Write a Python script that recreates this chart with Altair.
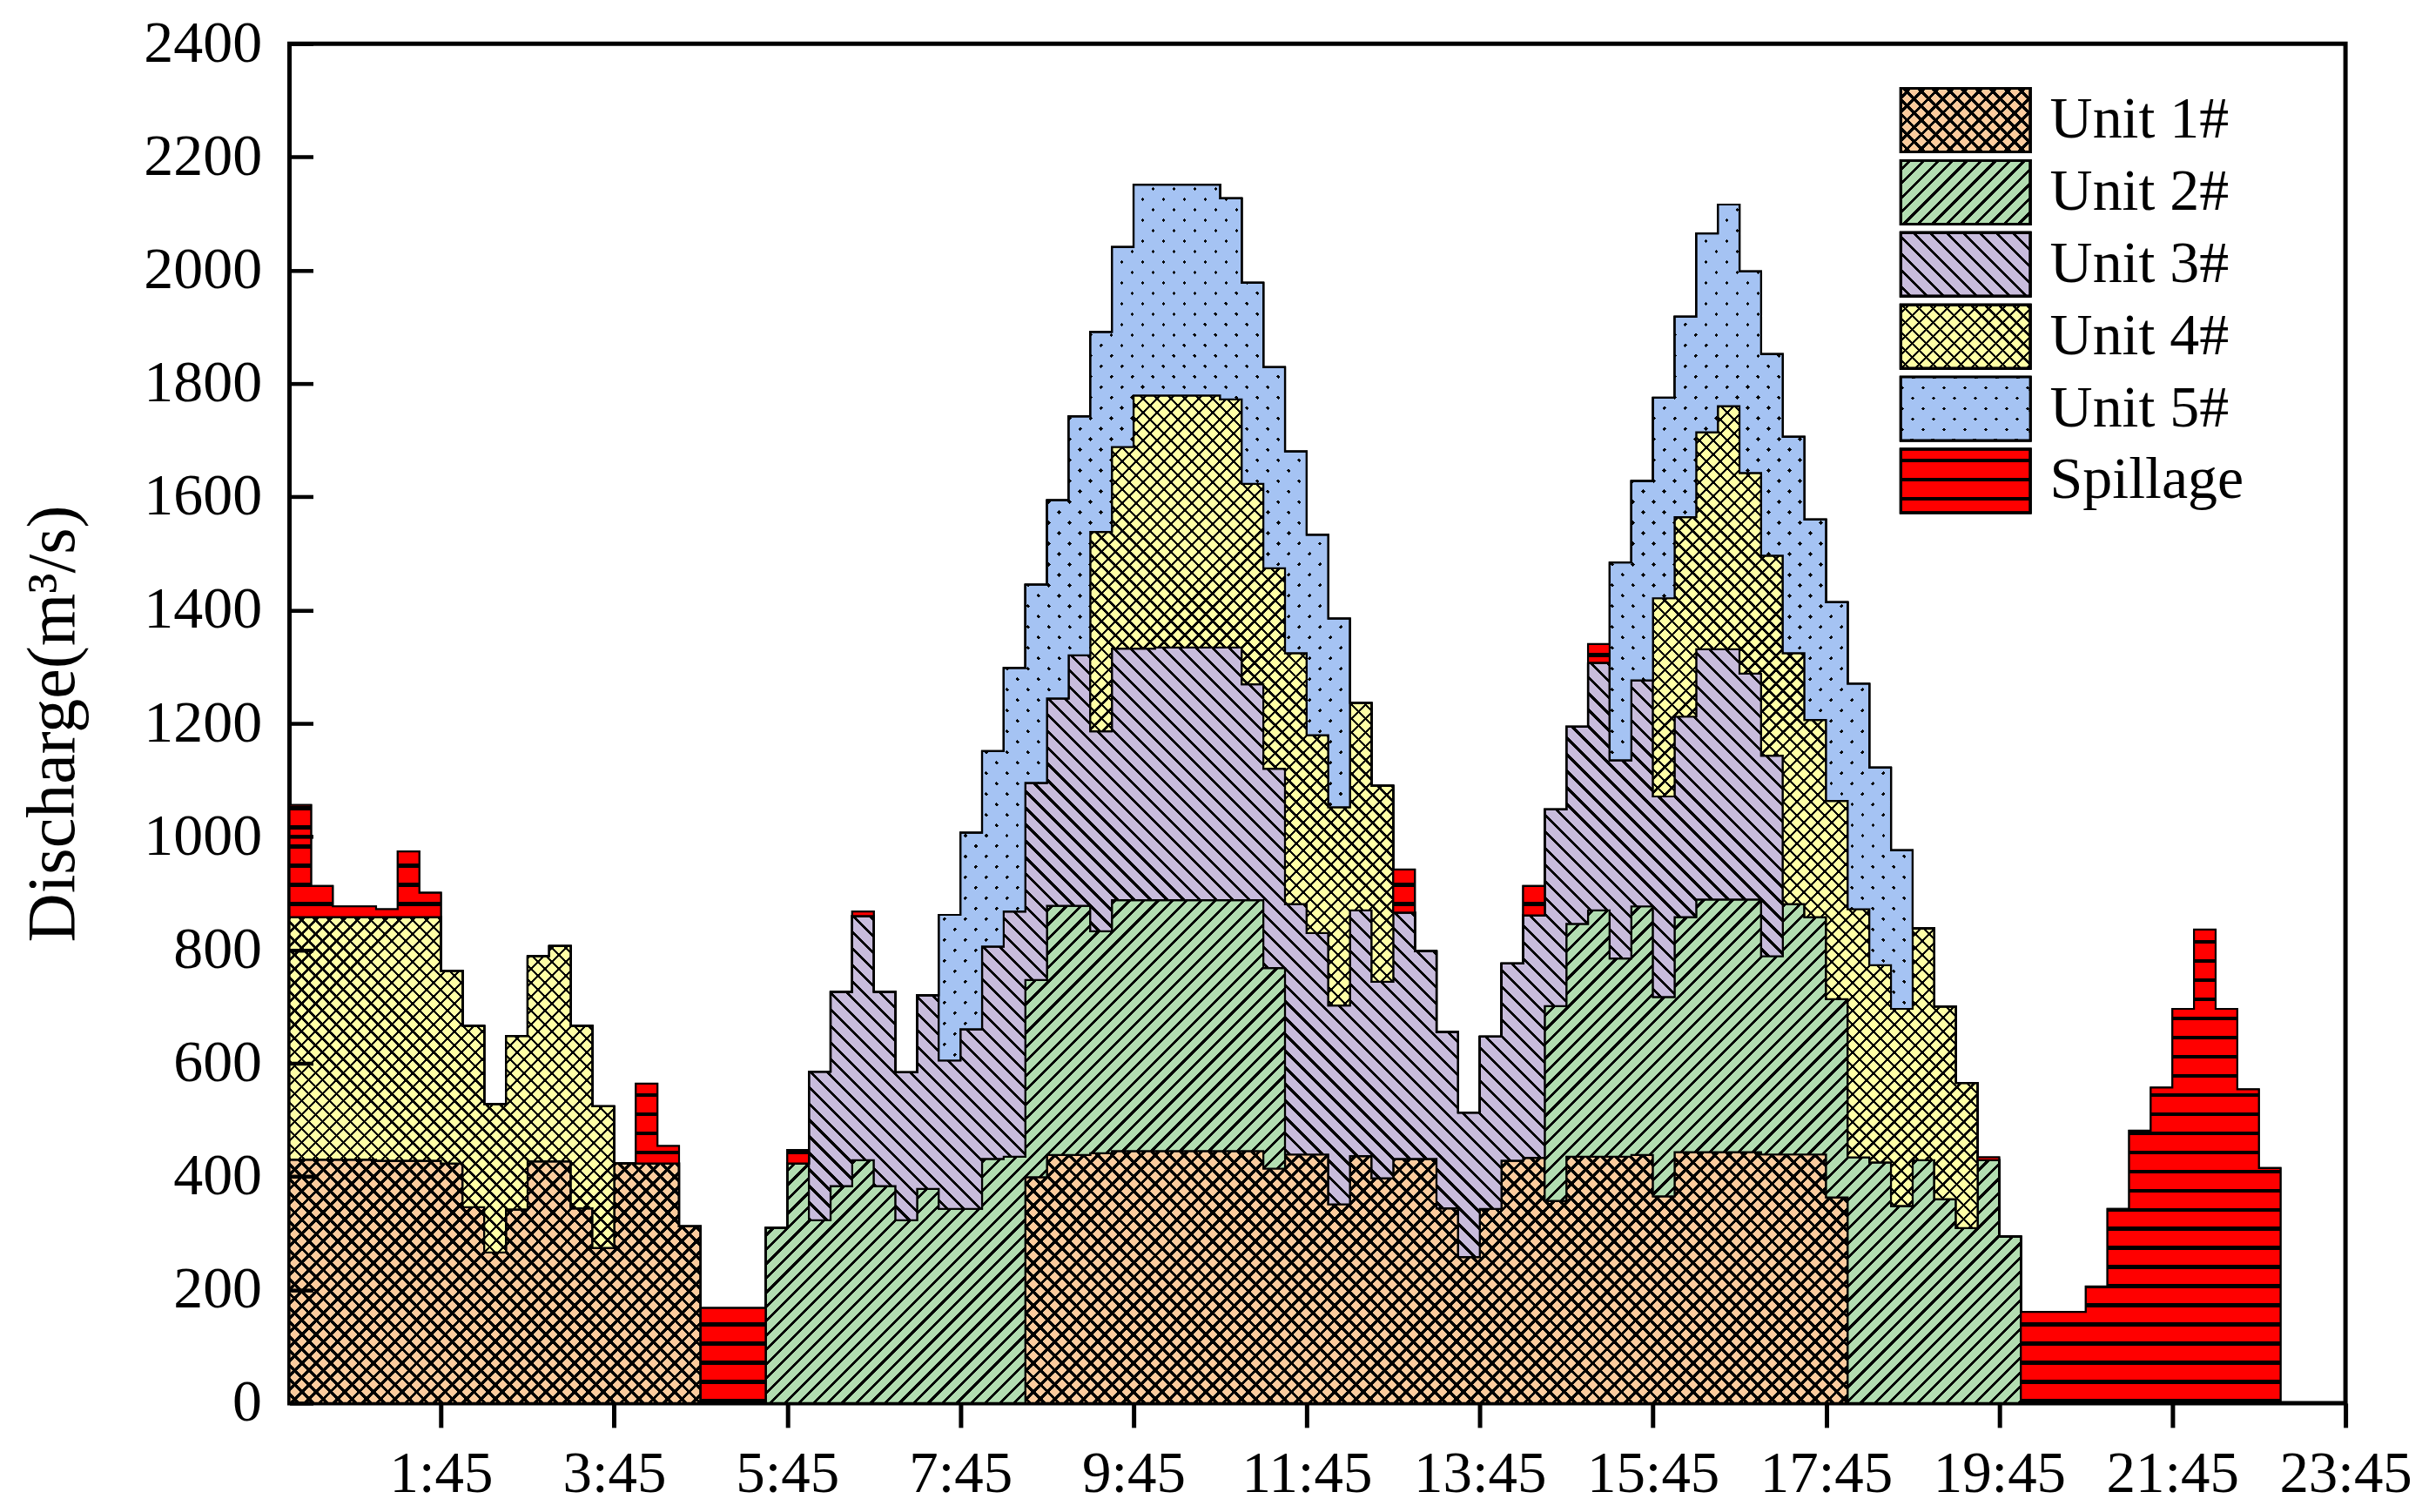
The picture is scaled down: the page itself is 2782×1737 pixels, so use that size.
import json
import math
import altair as alt
import pandas as pd

FONT = "Liberation Serif"

# ---------------- data (15-minute steps starting at 0:00) ----------------
series_names = ["Unit 1#", "Unit 2#", "Unit 3#", "Unit 4#", "Unit 5#", "Spillage"]

unit1 = [430, 430, 430, 430, 428, 428, 428, 423, 346, 266,
         342, 427, 427, 344, 274, 423, 423, 423, 312, 0,
         0, 0, 0, 0, 0, 0, 0, 0, 0, 0,
         0, 0, 0, 0, 399, 438, 438, 441, 445, 445,
         445, 445, 445, 445, 445, 414, 439, 439, 351, 436,
         397, 431, 431, 344, 258, 343, 428, 433, 357, 435,
         435, 435, 438, 365, 443, 443, 443, 443, 439, 439,
         439, 363, 0, 0, 0, 0, 0, 0, 0, 0,
         0, 0, 0, 0, 0, 0, 0, 0, 0, 0,
         0, 0]
unit2 = [0, 0, 0, 0, 0, 0, 0, 0, 0, 0,
         0, 0, 0, 0, 0, 0, 0, 0, 0, 0,
         0, 0, 309, 423, 323, 383, 429, 383, 323, 378,
         343, 343, 431, 435, 348, 440, 440, 392, 443, 443,
         443, 443, 443, 443, 443, 354, 0, 0, 0, 0,
         0, 0, 0, 0, 0, 0, 0, 0, 344, 411,
         435, 350, 439, 352, 415, 446, 446, 446, 350, 442,
         419, 350, 434, 425, 348, 429, 360, 309, 429, 294,
         0, 0, 0, 0, 0, 0, 0, 0, 0, 0,
         0, 0]
unit3 = [0, 0, 0, 0, 0, 0, 0, 0, 0, 0,
         0, 0, 0, 0, 0, 0, 0, 0, 0, 0,
         0, 0, 0, 0, 262, 343, 431, 343, 261, 342,
         262, 317, 375, 433, 348, 366, 442, 353, 444, 444,
         446, 446, 446, 446, 381, 352, 442, 391, 351, 434,
         347, 435, 367, 311, 255, 304, 348, 428, 347, 348,
         437, 350, 399, 354, 354, 442, 442, 399, 354, 0,
         0, 0, 0, 0, 0, 0, 0, 0, 0, 0,
         0, 0, 0, 0, 0, 0, 0, 0, 0, 0,
         0, 0]
unit4 = [428, 428, 428, 428, 430, 430, 430, 340, 320, 262,
         306, 362, 380, 322, 250, 0, 0, 0, 0, 0,
         0, 0, 0, 0, 0, 0, 0, 0, 0, 0,
         0, 0, 0, 0, 0, 0, 0, 352, 356, 447,
         445, 445, 445, 438, 354, 354, 443, 349, 350, 366,
         346, 0, 0, 0, 0, 0, 0, 0, 0, 0,
         0, 0, 0, 350, 352, 383, 429, 354, 353, 443,
         348, 350, 438, 348, 348, 409, 340, 256, 0, 0,
         0, 0, 0, 0, 0, 0, 0, 0, 0, 0,
         0, 0]
unit5 = [0, 0, 0, 0, 0, 0, 0, 0, 0, 0,
         0, 0, 0, 0, 0, 0, 0, 0, 0, 0,
         0, 0, 0, 0, 0, 0, 0, 0, 0, 0,
         257, 347, 345, 430, 350, 350, 422, 353, 353, 372,
         372, 372, 372, 355, 355, 355, 356, 354, 333, 0,
         0, 0, 0, 0, 0, 0, 0, 0, 0, 0,
         0, 349, 352, 354, 354, 351, 356, 356, 356, 382,
         354, 351, 398, 349, 280, 0, 0, 0, 0, 0,
         0, 0, 0, 0, 0, 0, 0, 0, 0, 0,
         0, 0]
spill = [198, 55, 19, 19, 14, 116, 43, 0, 0, 0,
         0, 0, 0, 0, 0, 0, 141, 31, 0, 168,
         168, 168, 0, 24, 0, 0, 8, 0, 0, 0,
         0, 0, 0, 0, 0, 0, 0, 0, 0, 0,
         0, 0, 0, 0, 0, 0, 0, 0, 0, 0,
         0, 76, 0, 0, 0, 0, 0, 52, 0, 0,
         33, 0, 0, 0, 0, 0, 0, 0, 0, 0,
         0, 0, 0, 0, 0, 0, 0, 0, 5, 0,
         161, 161, 161, 206, 343, 481, 557, 696, 836, 696,
         554, 415]

values_by_series = [unit1, unit2, unit3, unit4, unit5, spill]
N_STEPS = 92
for v in values_by_series:
    assert len(v) == N_STEPS
# step start times in hours; one extra point closes the last step
step_hours = [i * 0.25 for i in range(N_STEPS + 1)]

y_ticks = [0, 200, 400, 600, 800, 1000, 1200, 1400, 1600, 1800, 2000, 2200, 2400]
x_tick_values = [1.75, 3.75, 5.75, 7.75, 9.75, 11.75, 13.75, 15.75, 17.75, 19.75, 21.75, 23.75]
x_tick_labels = ["1:45", "3:45", "5:45", "7:45", "9:45", "11:45", "13:45",
                 "15:45", "17:45", "19:45", "21:45", "23:45"]

base_colors = ["#FBCB9D", "#B2DDB1", "#C8BCDC", "#FFFFA6", "#A5C3F3", "#FF0000"]

# ---------------- geometry (plot area) ----------------
W_PLOT, H_PLOT = 2365, 1564
X_MAX, Y_MAX = 23.75, 2400

rows = []
for k, (name, vals) in enumerate(zip(series_names, values_by_series)):
    ext = vals + [vals[-1]]
    for t, v in zip(step_hours, ext):
        rows.append({"t": t, "series": name, "order": k, "value": v})
df = pd.DataFrame(rows)


def px_y(v):
    return (1 - v / Y_MAX) * H_PLOT


# bounding boxes of each stacked area path (for pattern gradients)
bboxes = []
cum = [0] * (N_STEPS + 1)
for vals in values_by_series:
    ext = vals + [vals[-1]]
    lower = cum[:]
    upper = [a + b for a, b in zip(lower, ext)]
    w = step_hours[-1] / X_MAX * W_PLOT
    h = max(px_y(min(lower)) - px_y(max(upper)), 1)
    bboxes.append((w, h))
    cum = upper


def stripes(W, H, period, lw, bg, fg, kind):
    if kind == "h":
        L = H
        x1, y1, x2, y2 = 0, 0, 0, 1
        d = lw / L
    else:
        L = W + H
        m = L / (W * W + H * H)
        d = lw * math.sqrt(2) / L
        if kind == "/":
            x1, y1, x2, y2 = 0, 0, W * m, H * m
        else:
            x1, y1, x2, y2 = 0, 1, W * m, 1 - H * m
    step = period / L
    stops = [{"offset": 0, "color": bg}]
    o = step / 2
    while o < 1:
        a = round(o, 6)
        b = round(min(o + d, 1), 6)
        stops += [{"offset": a, "color": bg}, {"offset": a, "color": fg},
                  {"offset": b, "color": fg}, {"offset": b, "color": bg}]
        o += step
    stops.append({"offset": 1, "color": bg})
    return {"gradient": "linear", "x1": round(x1, 6), "y1": round(y1, 6),
            "x2": round(x2, 6), "y2": round(y2, 6), "stops": stops}


CLEAR = "rgba(0,0,0,0)"
INK = "#000000"
c1, c2, c3, c4, c5, c6 = base_colors
# pattern layers per series: (kind, background, line colour, period px, line width px)
pattern_specs = [
    [("/", c1, INK, 16.5, 3.4), ("\\", CLEAR, INK, 16.5, 3.4)],          # cross-hatch
    [("/", c2, INK, 16.5, 3.0)],                                         # forward diagonal
    [("\\", c3, INK, 19.0, 3.0)],                                        # back diagonal
    [("/", c4, INK, 16.0, 2.3), ("\\", CLEAR, INK, 16.0, 2.3)],          # fine mesh
    [("solid", c5, None, 0, 0), ("/", CLEAR, INK, 24.0, 3.2),
     ("\\", c5, CLEAR, 24.0, 3.2)],                                      # dots
    [("h", c6, INK, 22.0, 4.5)],                                         # horizontal lines
]


def make_fill(spec, W, H):
    kind, bg, fg, period, lw = spec
    if kind == "solid":
        return bg
    return stripes(W, H, period, lw, bg, fg, kind)


patterns = [[make_fill(s, *bboxes[k]) for s in specs] for k, specs in enumerate(pattern_specs)]

# legend swatch patterns (swatch is 149 x 73 px)
LW, LH = 149, 73
N_LEG = max(len(s) for s in pattern_specs)


def leg_value(spec):
    f = make_fill(spec, LW, LH)
    if isinstance(f, str):
        return f
    return alt.ExprRef(expr=json.dumps(f, separators=(",", ":")))


legend_ranges = []
for li in range(N_LEG):
    legend_ranges.append([leg_value(specs[li]) if li < len(specs) else CLEAR
                          for specs in pattern_specs])

# ---------------- encodings ----------------
label_expr = "[" + ",".join("'%s'" % s for s in x_tick_labels) + "][round((datum.value - 1.75) / 2)]"

x_enc = alt.X(
    "t:Q",
    scale=alt.Scale(domain=[0, X_MAX], nice=False, zero=False),
    axis=alt.Axis(values=x_tick_values, labelExpr=label_expr, title=None, grid=False,
                  domain=False, tickSize=28, tickWidth=5, tickColor="black",
                  labelPadding=21, labelFont=FONT, labelFontSize=67, labelColor="black",
                  labelFlush=False, labelOverlap=False, zindex=1),
)
y_enc = alt.Y(
    "y1:Q",
    scale=alt.Scale(domain=[0, Y_MAX], nice=False),
    axis=alt.Axis(values=y_ticks, format="d", title="Discharge(m³/s)", grid=False,
                  domain=False, offset=-27, tickSize=27, tickWidth=4.5, tickColor="black",
                  labelPadding=32, labelFont=FONT, labelFontSize=68, labelColor="black",
                  labelFlush=False, labelOverlap=False,
                  titleFont=FONT, titleFontSize=78, titleFontWeight="normal",
                  titleColor="black", titleAngle=270, titleAlign="center",
                  titleBaseline="alphabetic", titleX=-275, titleY=782, zindex=1),
)
y2_enc = alt.Y2("y0:Q")

SYMBOL = "M-2,-0.98L2,-0.98L2,0.98L-2,0.98Z"
legend_common = dict(
    title=None, orient="none", legendX=1889, legendY=49, direction="vertical",
    symbolType=SYMBOL, symbolSize=5550, symbolStrokeWidth=3, symbolOpacity=1,
    symbolStrokeColor="black",
    labelFont=FONT, labelFontSize=68, labelOffset=58, labelLimit=500,
    rowPadding=-3, padding=0, labelColor="black",
)

base = alt.Chart(df).transform_stack(
    stack="value", groupby=["t"], as_=["y0", "y1"],
    sort=[alt.SortField(field="order", order="ascending")],
)

layers = []
# hidden under-layers: they only carry the (patterned) legend and are covered by the pattern layers
for li in range(N_LEG):
    fld = "series%d" % li
    if li == 0:
        lg = alt.Legend(zindex=1, **legend_common)
        mk = base.transform_calculate(**{fld: "datum.series"}).mark_area(
            interpolate="step-after", stroke="black", strokeWidth=2, opacity=1)
    else:
        lg = alt.Legend(labelOpacity=0, zindex=1 + li, **legend_common)
        mk = base.transform_calculate(**{fld: "datum.series"}).mark_area(
            interpolate="step-after", opacity=1)
    layers.append(mk.encode(
        x=x_enc, y=y_enc, y2=y2_enc,
        fill=alt.Fill(fld + ":N", scale=alt.Scale(domain=series_names, range=legend_ranges[li]),
                      legend=lg),
    ))

for k, name in enumerate(series_names):
    sub = base.transform_filter(alt.datum.series == name)
    n = len(patterns[k])
    for gi, g in enumerate(patterns[k]):
        if gi == n - 1:
            mk = sub.mark_area(interpolate="step-after", fill=g, stroke="black",
                               strokeWidth=2.2, opacity=1)
        else:
            mk = sub.mark_area(interpolate="step-after", fill=g, opacity=1)
        layers.append(mk.encode(x=x_enc, y=y_enc, y2=y2_enc))

chart = alt.layer(*layers).resolve_scale(fill="independent").properties(
    width=W_PLOT, height=H_PLOT,
    padding={"left": 325, "top": 41, "right": 80, "bottom": 115},
    autosize=alt.AutoSizeParams(type="none"),
    background="white",
).configure_view(stroke="black", strokeWidth=5)

chart.save("out.html", embed_options={"renderer": "svg", "actions": False})
